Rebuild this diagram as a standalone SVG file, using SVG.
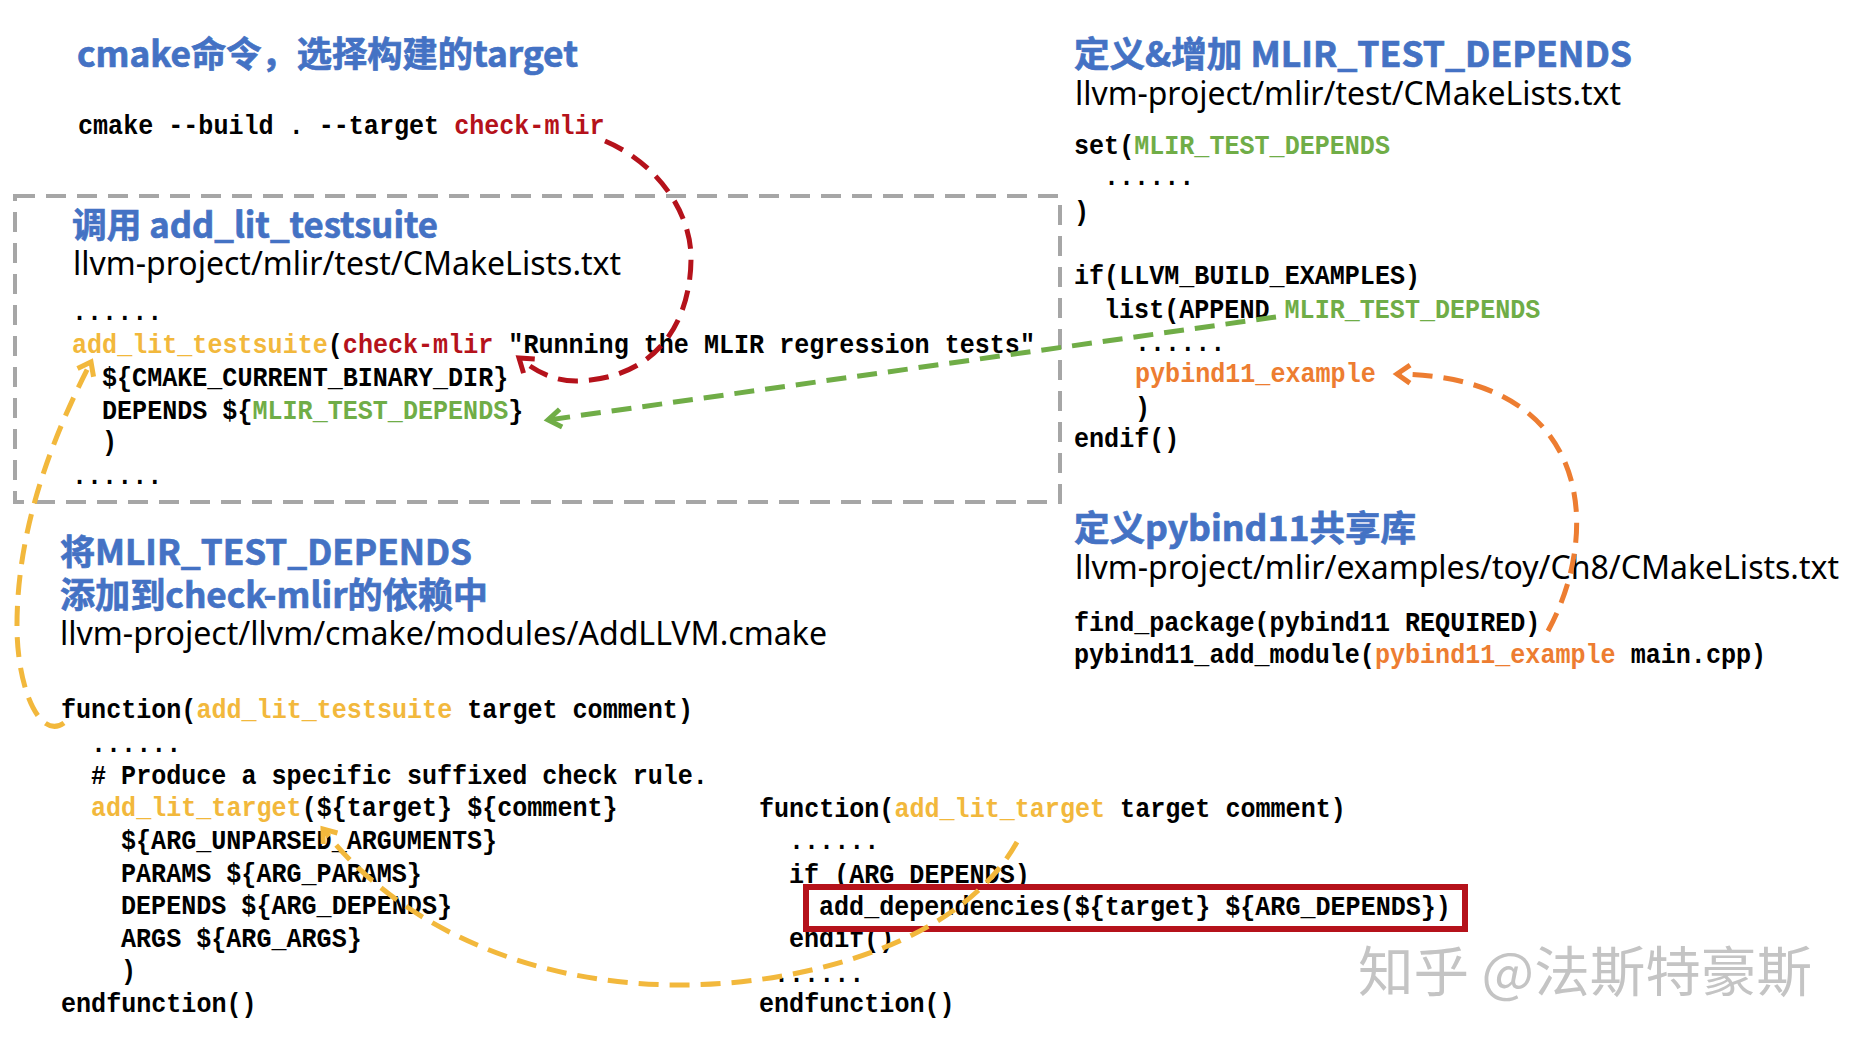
<svg xmlns="http://www.w3.org/2000/svg" width="1860" height="1048" viewBox="0 0 1860 1048">
<style>
text{white-space:pre}
.h{font-family:"Noto Sans CJK SC","Noto Sans",sans-serif;font-weight:700;font-size:35px;fill:#4472c4;stroke:#4472c4;stroke-width:.7}
.p{font-family:"Noto Sans","Open Sans",sans-serif;font-size:32px;fill:#000}
.c{font-family:"Liberation Mono",monospace;font-weight:700;font-size:27px;fill:#000}
.r{fill:#b5121b}.y{fill:#f2b83c}.g{fill:#70ad47}.o{fill:#ed7d31}
.a{fill:none;stroke-width:5;stroke-dasharray:20 11}
.m{fill:none;stroke-width:5;stroke-linecap:butt;stroke-linejoin:miter}
</style>
<defs>
<marker id="mr" markerUnits="userSpaceOnUse" markerWidth="30" markerHeight="30" refX="20" refY="15" orient="auto"><path class="m" stroke="#b5121b" d="M7 6L20 15L7 24"/></marker>
<marker id="mg" markerUnits="userSpaceOnUse" markerWidth="30" markerHeight="30" refX="20" refY="15" orient="auto"><path class="m" stroke="#70ad47" d="M7 6L20 15L7 24"/></marker>
<marker id="mo" markerUnits="userSpaceOnUse" markerWidth="30" markerHeight="30" refX="20" refY="15" orient="auto"><path class="m" stroke="#ed7d31" d="M7 6L20 15L7 24"/></marker>
<marker id="my" markerUnits="userSpaceOnUse" markerWidth="30" markerHeight="30" refX="20" refY="15" orient="auto"><path class="m" stroke="#f2b83c" d="M8 6L20 15L8 24"/></marker>
</defs>
<rect width="1860" height="1048" fill="#fff"/>
<g id="box-call">
<rect x="15" y="196" width="1045" height="306" fill="none" stroke="#a6a6a6" stroke-width="4" stroke-dasharray="20 11"/>
</g>
<g id="node-cmake">
<text class="h" x="77" y="67" textLength="501" lengthAdjust="spacingAndGlyphs">cmake命令，选择构建的target</text>
<text class="c" transform="translate(78 134) scale(.929 1)">cmake --build . --target <tspan class="r">check-mlir</tspan></text>
</g>
<g id="node-add-lit-testsuite">
<text class="h" x="72" y="238" textLength="366" lengthAdjust="spacingAndGlyphs">调用 add_lit_testsuite</text>
<text class="p" x="73" y="275" textLength="548" lengthAdjust="spacingAndGlyphs">llvm-project/mlir/test/CMakeLists.txt</text>
<text class="c" transform="translate(72 320) scale(.929 1)">......</text>
<text class="c y" transform="translate(72 353) scale(.929 1)">add_lit_testsuite<tspan style="fill:#000">(</tspan><tspan class="r">check-mlir</tspan> <tspan style="fill:#000">"Running the MLIR regression tests"</tspan></text>
<text class="c" transform="translate(102 386) scale(.929 1)">${CMAKE_CURRENT_BINARY_DIR}</text>
<text class="c" transform="translate(102 419) scale(.929 1)">DEPENDS ${<tspan class="g">MLIR_TEST_DEPENDS</tspan>}</text>
<text class="c" transform="translate(102 450) scale(.929 1)">)</text>
<text class="c" transform="translate(72 484) scale(.929 1)">......</text>
</g>
<g id="node-depends">
<text class="h" x="1074" y="67" textLength="558" lengthAdjust="spacingAndGlyphs">定义&amp;增加 MLIR_TEST_DEPENDS</text>
<text class="p" x="1075" y="105" textLength="546" lengthAdjust="spacingAndGlyphs">llvm-project/mlir/test/CMakeLists.txt</text>
<text class="c" transform="translate(1074 154) scale(.929 1)">set(<tspan class="g">MLIR_TEST_DEPENDS</tspan></text>
<text class="c" transform="translate(1104 185) scale(.929 1)">......</text>
<text class="c" transform="translate(1074 220) scale(.929 1)">)</text>
<text class="c" transform="translate(1074 284) scale(.929 1)">if(LLVM_BUILD_EXAMPLES)</text>
<text class="c" transform="translate(1104 318) scale(.929 1)">list(APPEND <tspan class="g">MLIR_TEST_DEPENDS</tspan></text>
<text class="c" transform="translate(1135 351) scale(.929 1)">......</text>
<text class="c o" transform="translate(1135 382) scale(.929 1)">pybind11_example</text>
<text class="c" transform="translate(1135 416) scale(.929 1)">)</text>
<text class="c" transform="translate(1074 447) scale(.929 1)">endif()</text>
</g>
<g id="node-pybind">
<text class="h" x="1074" y="541" textLength="342" lengthAdjust="spacingAndGlyphs">定义pybind11共享库</text>
<text class="p" x="1075" y="579" textLength="764" lengthAdjust="spacingAndGlyphs">llvm-project/mlir/examples/toy/Ch8/CMakeLists.txt</text>
<text class="c" transform="translate(1074 631) scale(.929 1)">find_package(pybind11 REQUIRED)</text>
<text class="c" transform="translate(1074 663) scale(.929 1)">pybind11_add_module(<tspan class="o">pybind11_example</tspan> main.cpp)</text>
</g>
<g id="node-addllvm">
<text class="h" x="60" y="565" textLength="412" lengthAdjust="spacingAndGlyphs">将MLIR_TEST_DEPENDS</text>
<text class="h" x="60" y="608" textLength="428" lengthAdjust="spacingAndGlyphs">添加到check-mlir的依赖中</text>
<text class="p" x="60" y="645" textLength="767" lengthAdjust="spacingAndGlyphs">llvm-project/llvm/cmake/modules/AddLLVM.cmake</text>
<text class="c" transform="translate(61 718) scale(.929 1)">function(<tspan class="y">add_lit_testsuite</tspan> target comment)</text>
<text class="c" transform="translate(91 752) scale(.929 1)">......</text>
<text class="c" transform="translate(91 784) scale(.929 1)"># Produce a specific suffixed check rule.</text>
<text class="c" transform="translate(91 816) scale(.929 1)"><tspan class="y">add_lit_target</tspan>(${target} ${comment}</text>
<text class="c" transform="translate(121 849) scale(.929 1)">${ARG_UNPARSED_ARGUMENTS}</text>
<text class="c" transform="translate(121 882) scale(.929 1)">PARAMS ${ARG_PARAMS}</text>
<text class="c" transform="translate(121 914) scale(.929 1)">DEPENDS ${ARG_DEPENDS}</text>
<text class="c" transform="translate(121 947) scale(.929 1)">ARGS ${ARG_ARGS}</text>
<text class="c" transform="translate(121 979) scale(.929 1)">)</text>
<text class="c" transform="translate(61 1012) scale(.929 1)">endfunction()</text>
</g>
<g id="node-add-lit-target">
<text class="c" transform="translate(759 817) scale(.929 1)">function(<tspan class="y">add_lit_target</tspan> target comment)</text>
<text class="c" transform="translate(789 849) scale(.929 1)">......</text>
<text class="c" transform="translate(789 883) scale(.929 1)">if (ARG_DEPENDS)</text>
<text class="c" transform="translate(789 947) scale(.929 1)">endif()</text>
<text class="c" transform="translate(774 982) scale(.929 1)">......</text>
<text class="c" transform="translate(759 1012) scale(.929 1)">endfunction()</text>
<rect x="806" y="887" width="659" height="42" fill="#fff" stroke="#b5121b" stroke-width="6"/>
<text class="c" transform="translate(819 915) scale(.929 1)">add_dependencies(${target} ${ARG_DEPENDS})</text>
</g>
<g id="connectors">
<path class="a" stroke="#b5121b" marker-end="url(#mr)" d="M605 141C657 163 691 212 691 258C691 318 660 379 576 381C552 381 534 370 519 358"/>
<path class="a" stroke="#70ad47" marker-end="url(#mg)" d="M1276 317L548 420"/>
<path class="a" stroke="#ed7d31" marker-end="url(#mo)" d="M1548 631C1603 530 1592 376 1397 374"/>
<path class="a" stroke="#f2b83c" marker-end="url(#my)" d="M64 723C40 740 18 690 17 630C16 530 52 438 91 362"/>
<path class="a" stroke="#f2b83c" marker-end="url(#my)" d="M1017 842C960 945 800 985 680 985C530 985 398 926 323 829"/>
</g>
<g id="watermark">
<text x="1358" y="992" textLength="454" lengthAdjust="spacingAndGlyphs" style="font-family:'Noto Sans CJK SC',sans-serif;font-size:54px;fill:#c4c4c4">知乎 @法斯特豪斯</text>
</g>
</svg>
